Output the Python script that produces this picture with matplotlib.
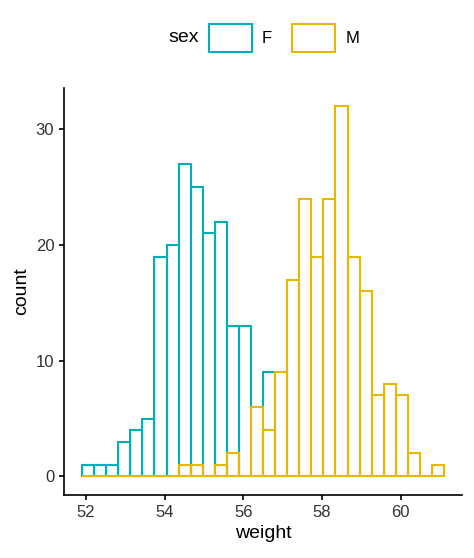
import matplotlib
matplotlib.use("Agg")
import matplotlib.pyplot as plt
import numpy as np
from matplotlib.patches import Patch

plt.rcParams['font.family'] = ['Liberation Sans', 'DejaVu Sans']

edges_lo, edges_hi, nbins = 51.9, 61.1, 30
f_counts = [1,1,1,3,4,5,19,20,27,25,21,22,13,13,0,9,0,0,0,0,0,0,0,0,0,0,0,0,0,0]
m_counts = [0,0,0,0,0,0,0,0,1,1,0,1,2,0,6,4,9,17,24,19,24,32,19,16,7,8,7,2,0,1]
groups = ["F", "M"]
colors = ["#00AFBB", "#E7B800"]
xticks = [52, 54, 56, 58, 60]

edges = np.linspace(edges_lo, edges_hi, nbins + 1)
w = edges[1] - edges[0]
fig = plt.figure(figsize=(4.74, 5.58), dpi=100)
ax = fig.add_axes([0.135, 0.113, 0.84, 0.73])
for counts, c in zip([f_counts, m_counts], colors):
    ax.bar(edges[:-1], counts, width=w, align="edge", fill=False, edgecolor=c, linewidth=1.5)
ax.set_xlim(51.44, 61.56)
ax.set_ylim(-1.6, 33.6)
ax.set_xticks(xticks)
ax.set_yticks([0, 10, 20, 30])
for s in ["top", "right"]:
    ax.spines[s].set_visible(False)
for s in ["left", "bottom"]:
    ax.spines[s].set_linewidth(1.2)
ax.tick_params(labelsize=12, colors="black", width=1.2, labelcolor="#333333")
ax.set_xlabel("weight", fontsize=14)
ax.set_ylabel("count", fontsize=14)
handles = [Patch(facecolor="white", edgecolor=c, linewidth=1.5, label=g) for g, c in zip(groups, colors)]
fig.text(0.355, 0.932, "sex", fontsize=14, ha="left", va="center")
fig.legend(handles=handles, loc="center left", bbox_to_anchor=(0.44, 0.932), ncol=2,
           frameon=False, fontsize=12, handlelength=2.6, handleheight=2.2,
           columnspacing=1.2, handletextpad=0.6, borderaxespad=0, borderpad=0)
fig.savefig("out.png", dpi=100)
